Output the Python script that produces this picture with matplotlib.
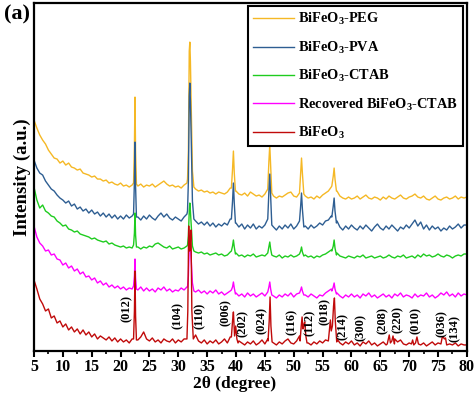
import numpy as np
import matplotlib
matplotlib.use("Agg")
import matplotlib.pyplot as plt

plt.rcParams["font.family"] = ["Liberation Serif", "DejaVu Serif"]
plt.rcParams["font.weight"] = "bold"
plt.rcParams["mathtext.default"] = "regular"

# 2theta grid for the baselines (0.5 deg steps)
two_theta = np.arange(5.0, 80.01, 0.5)

# Baselines (intensity, a.u.)
peg_base = [
    231, 223, 216, 211, 207, 201, 197, 193, 192, 188,
    190, 186, 188, 184, 183, 181, 182, 178, 177, 176,
    174, 175, 172, 172, 170, 171, 168, 169, 167, 166,
    168, 165, 166, 164, 166, 166, 165, 167, 164, 166,
    165, 167, 164, 166, 168, 170, 167, 165, 166, 164,
    165, 163, 166, 168, 170, 166, 162, 160, 161, 159,
    160, 158, 159, 157, 159, 158, 157, 159, 163, 170,
    160, 157, 156, 158, 155, 159, 157, 155, 156, 154,
    157, 165, 160, 155, 153, 155, 154, 156, 158, 159,
    155, 154, 158, 165, 155, 153, 154, 152, 155, 153,
    156, 158, 160, 164, 170, 160, 155, 153, 152, 154,
    152, 153, 155, 152, 154, 156, 153, 152, 154, 153,
    151, 154, 152, 155, 153, 152, 154, 156, 153, 152,
    154, 155, 157, 154, 153, 155, 152, 151, 153, 155,
    152, 151, 153, 154, 152, 153, 155, 152, 154, 153,
    154]
pva_base = [
    191, 183, 178, 176, 170, 166, 162, 160, 156, 153,
    151, 148, 150, 145, 147, 142, 144, 140, 142, 138,
    141, 137, 139, 135, 138, 134, 137, 133, 136, 132,
    135, 132, 136, 133, 135, 136, 134, 131, 135, 132,
    136, 133, 131, 135, 138, 134, 137, 133, 131, 134,
    132, 130, 134, 137, 140, 134, 130, 127, 129, 126,
    129, 125, 128, 124, 127, 125, 128, 126, 132, 140,
    128, 124, 127, 122, 126, 123, 127, 122, 125, 123,
    126, 135, 130, 124, 121, 125, 122, 126, 123, 127,
    122, 125, 130, 135, 125, 122, 126, 123, 125, 128,
    126, 130, 131, 135, 140, 130, 124, 121, 125, 122,
    126, 123, 121, 125, 122, 126, 123, 120, 124, 127,
    123, 121, 125, 122, 126, 123, 120, 124, 122, 126,
    123, 127, 131, 125, 129, 122, 126, 121, 125, 122,
    124, 120, 123, 121, 125, 122, 124, 127, 123, 126,
    126]
ctab_base = [
    164, 151, 143, 146, 140, 138, 135, 134, 130, 128,
    125, 126, 122, 121, 119, 120, 117, 116, 115, 114,
    112, 113, 111, 110, 109, 110, 107, 108, 106, 105,
    104, 105, 103, 104, 103, 104, 104, 102, 104, 103,
    105, 104, 107, 108, 106, 104, 103, 105, 102, 103,
    104, 102, 103, 105, 108, 102, 99, 98, 99, 97,
    98, 96, 97, 98, 96, 97, 95, 96, 99, 104,
    98, 95, 96, 94, 96, 95, 97, 94, 95, 96,
    95, 100, 99, 95, 94, 96, 93, 95, 94, 96,
    94, 95, 97, 100, 96, 94, 95, 93, 95, 94,
    96, 97, 99, 101, 104, 98, 95, 94, 93, 95,
    94, 93, 95, 94, 96, 93, 94, 95, 93, 94,
    95, 93, 94, 96, 94, 93, 95, 94, 96, 93,
    94, 95, 93, 96, 94, 97, 95, 96, 94, 95,
    97, 95, 94, 96, 95, 93, 95, 96, 95, 97,
    97]
rec_base = [
    125, 114, 108, 105, 100, 101, 96, 97, 92, 91,
    86, 88, 83, 85, 80, 82, 77, 79, 74, 75,
    71, 73, 68, 70, 66, 68, 64, 66, 63, 65,
    62, 64, 61, 63, 62, 66, 61, 64, 60, 63,
    60, 62, 59, 63, 61, 64, 60, 62, 59, 61,
    60, 63, 61, 64, 66, 62, 59, 61, 58, 60,
    57, 60, 58, 61, 57, 59, 56, 58, 60, 63,
    58, 55, 57, 54, 58, 55, 57, 54, 56, 58,
    55, 60, 58, 55, 53, 56, 54, 57, 55, 58,
    54, 57, 60, 62, 56, 54, 57, 55, 53, 56,
    55, 58, 60, 62, 64, 58, 55, 53, 56, 54,
    57, 54, 56, 53, 57, 55, 58, 54, 56, 53,
    55, 57, 54, 56, 53, 57, 55, 58, 54, 56,
    55, 53, 57, 54, 56, 55, 58, 54, 56, 53,
    55, 58, 56, 59, 55, 57, 54, 58, 55, 57,
    56]
bfo_base = [
    71, 62, 52, 47, 40, 42, 33, 35, 28, 30,
    24, 27, 21, 24, 19, 22, 17, 21, 16, 19,
    14, 17, 12, 15, 13, 11, 14, 10, 13, 9,
    12, 9, 11, 8, 12, 10, 11, 14, 19, 12,
    10, 13, 9, 11, 8, 12, 10, 9, 12, 8,
    11, 9, 12, 14, 15, 13, 16, 10, 8, 11,
    7, 10, 8, 11, 7, 9, 12, 8, 14, 20,
    22, 10, 8, 6, 9, 7, 10, 6, 8, 11,
    7, 12, 14, 8, 6, 9, 7, 10, 12, 8,
    7, 10, 15, 22, 14, 8, 6, 9, 7, 10,
    8, 11, 15, 22, 30, 12, 8, 6, 9, 7,
    10, 6, 8, 5, 9, 7, 10, 6, 8, 5,
    7, 9, 6, 8, 10, 12, 9, 11, 7, 6,
    8, 11, 13, 9, 6, 8, 5, 7, 9, 6,
    8, 10, 12, 11, 7, 6, 8, 5, 7, 6,
    6]

# Peak profiles (2theta, intensity)
pk_x1 = [22.25, 22.4, 22.5, 22.6, 22.75]
pk_x2 = [31.6, 31.75, 31.9, 32.0, 32.1, 32.25, 32.45, 32.7]
pk_x3 = [39.2, 39.4, 39.55, 39.7, 39.9]
pk_x4 = [45.5, 45.7, 45.85, 46.0, 46.2]
pk_x5 = [51.0, 51.2, 51.35, 51.5, 51.75]
pk_x6 = [56.6, 56.85, 57.0, 57.15, 57.4]

peg_peaks = [[168, 205, 254, 200, 167],
             [172, 200, 300, 309, 290, 245, 180, 164],
             [163, 182, 200, 178, 160],
             [162, 190, 206, 185, 158],
             [158, 178, 193, 178, 157],
             [165, 175, 183, 172, 160]]
pva_peaks = [[137, 170, 209, 165, 134],
             [140, 170, 255, 268, 250, 210, 150, 132],
             [132, 150, 168, 148, 128],
             [132, 160, 177, 155, 126],
             [130, 145, 158, 142, 124],
             [134, 145, 153, 140, 128]]
ctab_peaks = [[106, 118, 138, 116, 104],
              [106, 115, 140, 148, 140, 125, 105, 100],
              [100, 105, 111, 104, 97],
              [98, 104, 109, 102, 96],
              [97, 100, 104, 99, 95],
              [100, 105, 111, 103, 96]]
rec_peaks = [[65, 75, 92, 73, 62],
             [64, 75, 105, 110, 105, 90, 68, 60],
             [61, 64, 69, 63, 57],
             [59, 64, 69, 62, 56],
             [58, 61, 64, 60, 56],
             [60, 64, 68, 62, 57]]

# BiFeO3 has its own reflections
bfo_peak_x = [[22.25, 22.4, 22.5, 22.6, 22.75],
              [31.5, 31.65, 31.8, 31.95, 32.05, 32.2, 32.35, 32.6],
              [39.2, 39.4, 39.55, 39.75, 39.95, 40.15, 40.35],
              [45.55, 45.75, 45.9, 46.05, 46.25],
              [51.1, 51.3, 51.45, 51.6, 51.75, 51.9, 52.1, 52.3],
              [56.0, 56.2, 56.35, 56.5, 56.7, 56.9, 57.05, 57.2, 57.45],
              [66.2, 66.4, 66.55, 66.75, 67.0, 67.2, 67.45],
              [70.4, 70.6, 70.8, 71.1, 71.35, 71.6],
              [75.5, 75.7, 75.9, 76.1, 76.3, 76.5]]
bfo_peak_y = [[12, 40, 80, 35, 11],
              [12, 40, 125, 100, 105, 121, 40, 12],
              [14, 30, 39, 15, 25, 12, 8],
              [10, 30, 54, 25, 9],
              [10, 25, 34, 22, 26, 29, 15, 8],
              [10, 22, 31, 20, 25, 45, 53, 30, 9],
              [7, 12, 16, 8, 10, 15, 7],
              [7, 11, 6, 8, 14, 7],
              [7, 13, 14, 12, 13, 6]]

hkl_labels = ["(012)", "(104)", "(110)", "(006)", "(202)", "(024)", "(116)", "(112)",
              "(018)", "(214)", "(300)", "(208)", "(220)", "(010)", "(036)", "(134)"]
hkl_x = [21.1, 29.9, 33.8, 38.3, 41.2, 44.5, 49.7, 52.8,
         55.4, 58.5, 61.6, 65.5, 68.1, 71.2, 75.7, 77.9]
hkl_y = [42, 35, 35, 38, 27, 30, 29, 28,
         39, 24, 23, 30, 31, 30, 27, 22]


def with_peaks(base, peak_x, peak_y):
    x = np.array(two_theta)
    y = np.array(base, dtype=float)
    keep = np.ones(len(x), dtype=bool)
    for px in peak_x:
        keep &= ~((x >= min(px)) & (x <= max(px)))
    xs = np.concatenate([x[keep]] + [np.array(p) for p in peak_x])
    ys = np.concatenate([y[keep]] + [np.array(p, dtype=float) for p in peak_y])
    order = np.argsort(xs)
    return xs[order], ys[order]


common_x = [pk_x1, pk_x2, pk_x3, pk_x4, pk_x5, pk_x6]
series = [
    ("BiFeO$_3$-PEG", "#F5B825", peg_base, common_x, peg_peaks),
    ("BiFeO$_3$-PVA", "#2E5E92", pva_base, common_x, pva_peaks),
    ("BiFeO$_3$-CTAB", "#1FCC1F", ctab_base, common_x, ctab_peaks),
    ("Recovered BiFeO$_3$-CTAB", "#FF00FF", rec_base, common_x, rec_peaks),
    ("BiFeO$_3$", "#C00A0A", bfo_base, bfo_peak_x, bfo_peak_y),
]

fig = plt.figure(figsize=(4.74, 3.93), dpi=100)
ax = fig.add_axes([0.0717, 0.107, 0.9133, 0.885])

for label, color, base, px, py in series:
    x, y = with_peaks(base, px, py)
    ax.plot(x, y, color=color, linewidth=1.0, label=label)

for txt, tx, ty in zip(hkl_labels, hkl_x, hkl_y):
    ax.text(tx, ty, txt, rotation=90, ha="center", va="center",
            fontsize=9, fontweight="bold")

ax.set_xlim(5, 80)
ax.set_ylim(0, 348)
ax.set_xticks(np.arange(5, 81, 5))
ax.set_xticks(np.arange(7.5, 80, 5), minor=True)
ax.set_yticks([])
ax.tick_params(axis="x", which="major", direction="out", length=4, width=1.5,
               labelsize=11.5, pad=2)
ax.tick_params(axis="x", which="minor", direction="out", length=2.5, width=1.2)
for lab in ax.get_xticklabels():
    lab.set_fontweight("bold")
for sp in ax.spines.values():
    sp.set_linewidth(1.6)

ax.set_xlabel("2θ (degree)", fontsize=12.5, fontweight="bold")
ax.xaxis.set_label_coords(0.464, -0.073)
ax.set_ylabel("Intensity (a.u.)", fontsize=13.5, fontweight="bold", labelpad=2)

leg = ax.legend(loc="upper right", bbox_to_anchor=(0.991, 0.991), borderaxespad=0,
                fontsize=10.4, handlelength=2.8, labelspacing=0.85, fancybox=False,
                framealpha=1, edgecolor="black", borderpad=0.35, handletextpad=0.3)
leg.get_frame().set_linewidth(1.5)
for t in leg.get_texts():
    t.set_fontweight("bold")

fig.text(0.035, 0.962, "(a)", fontsize=16, fontweight="bold", ha="center", va="center")

fig.savefig("out.png", dpi=100)
